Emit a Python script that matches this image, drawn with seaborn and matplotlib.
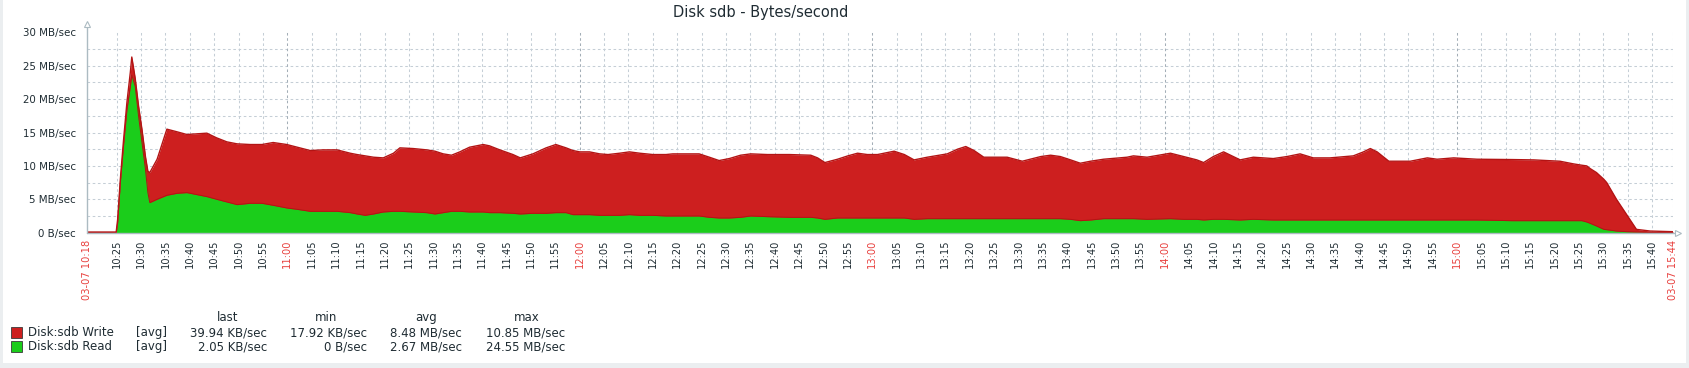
import numpy as np
import pandas as pd
import matplotlib
matplotlib.use("Agg")
import matplotlib.pyplot as plt
import seaborn as sns
from matplotlib.patches import Rectangle

# ---------------- data (minutes since 10:00, MB/sec) ----------------
minutes = [18.85, 24.9, 25.2, 25.75, 26.4, 27.1, 27.8, 28.1, 28.8, 29.5, 30.2, 30.9, 31.4, 31.8,
           33.3, 35.3, 37.4, 39.4, 41.4, 43.5, 45.5, 47.6, 49.7, 52.4, 54.8, 57.1, 59.9, 62.0,
           64.7, 67.4, 70.2, 72.9, 74.3, 76.0, 77.7, 79.7, 81.8, 83.1, 85.8, 88.6, 90.3, 92.0,
           93.7, 95.4, 97.4, 100.2, 101.5, 103.6, 106.3, 107.8, 110.4, 113.1, 115.1, 117.2,
           118.6, 120.0, 122.0, 124.1, 125.8, 128.2, 130.2, 132.3, 135.0, 137.7, 139.1, 144.5,
           146.6, 148.6, 150.7, 153.0, 155.1, 158.5, 163.0, 167.4, 168.8, 170.3, 172.9, 175.0,
           177.0, 179.0, 181.1, 184.5, 186.6, 188.6, 191.3, 195.4, 197.5, 199.2, 200.9, 202.9,
           207.7, 210.8, 214.6, 216.6, 218.6, 220.7, 222.7, 224.8, 227.5, 232.3, 233.6, 236.4,
           241.2, 243.9, 246.6, 248.0, 250.0, 252.1, 255.5, 258.2, 262.3, 265.1, 267.8, 270.5,
           273.9, 278.7, 280.8, 282.2, 283.6, 286.0, 290.4, 293.9, 295.9, 299.3, 304.1, 311.3,
           315.7, 321.1, 323.9, 325.6, 326.6, 327.3, 328.6, 330.1, 330.7, 332.7, 334.8, 336.8,
           339.6, 344.3]

read_mb = [0.0, 0.0, 1.5, 7.5, 13.0, 18.4, 21.9, 23.6, 21.9, 17.4, 13.4, 9.5, 6.0, 4.5,
           5.0, 5.6, 5.9, 6.0, 5.7, 5.4, 5.0, 4.6, 4.2, 4.4, 4.4, 4.1, 3.7, 3.5,
           3.2, 3.2, 3.2, 3.0, 2.8, 2.6, 2.8, 3.1, 3.2, 3.2, 3.1, 3.0, 2.8, 3.0,
           3.2, 3.2, 3.1, 3.1, 3.0, 3.0, 2.9, 2.8, 2.9, 2.9, 3.0, 3.0,
           2.7, 2.7, 2.7, 2.6, 2.6, 2.6, 2.7, 2.6, 2.6, 2.5, 2.5, 2.5,
           2.3, 2.2, 2.2, 2.3, 2.5, 2.4, 2.3, 2.3, 2.2, 2.0, 2.2, 2.2,
           2.2, 2.2, 2.2, 2.2, 2.2, 2.0, 2.1, 2.1, 2.1, 2.1, 2.1, 2.1,
           2.1, 2.1, 2.1, 2.1, 2.1, 2.0, 1.8, 1.9, 2.1, 2.1, 2.1, 2.0,
           2.1, 2.0, 2.0, 1.9, 2.0, 2.0, 1.9, 2.0, 1.9, 1.9, 1.9, 1.9,
           1.9, 1.9, 1.9, 1.9, 1.9, 1.9, 1.9, 1.9, 1.9, 1.9, 1.9, 1.8,
           1.8, 1.8, 1.8, 1.8, 1.6, 1.4, 1.0, 0.5, 0.45, 0.25, 0.15, 0.1,
           0.05, 0.02]

write_mb = [0.1, 0.1, 0.5, 0.5, 0.8, 1.1, 2.1, 2.7, 1.2, 1.5, 2.0, 1.9, 3.2, 4.5,
            6.0, 9.9, 9.2, 8.7, 9.1, 9.5, 9.2, 9.0, 9.1, 8.8, 8.8, 9.4, 9.5, 9.3,
            9.1, 9.2, 9.2, 8.9, 8.9, 8.9, 8.5, 8.1, 8.7, 9.5, 9.5, 9.4, 9.4, 8.8,
            8.4, 8.9, 9.7, 10.1, 10.0, 9.4, 8.8, 8.4, 8.9, 9.8, 10.2, 9.7,
            9.6, 9.4, 9.4, 9.2, 9.1, 9.3, 9.4, 9.3, 9.1, 9.2, 9.3, 9.3,
            9.0, 8.6, 8.9, 9.3, 9.3, 9.3, 9.4, 9.3, 9.0, 8.5, 8.8, 9.3,
            9.7, 9.5, 9.5, 10.0, 9.5, 8.9, 9.2, 9.7, 10.4, 10.8, 10.2, 9.2,
            9.2, 8.6, 9.3, 9.5, 9.3, 8.9, 8.6, 8.8, 8.9, 9.2, 9.4, 9.3,
            9.8, 9.4, 8.9, 8.6, 9.4, 10.1, 9.0, 9.3, 9.2, 9.5, 9.9, 9.3,
            9.3, 9.6, 10.2, 10.7, 10.2, 8.8, 8.8, 9.3, 9.1, 9.3, 9.1, 9.15,
            9.1, 8.9, 8.5, 8.3, 8.4, 8.2, 8.0, 7.5, 7.05, 4.75, 2.55, 0.4,
            0.2, 0.13]

x_start, x_end = 18.85, 344.3
tick_minutes = list(range(25, 341, 5))
tick_labels = ["%d:%02d" % (10 + m // 60, m % 60) for m in tick_minutes]
start_label, end_label = "03-07 10:18", "03-07 15:44"
y_ticks = [0, 5, 10, 15, 20, 25, 30]
y_labels = ["0 B/sec", "5 MB/sec", "10 MB/sec", "15 MB/sec", "20 MB/sec", "25 MB/sec", "30 MB/sec"]

title = "Disk sdb - Bytes/second"
legend_names = ["Disk:sdb Write", "Disk:sdb Read"]
legend_func = ["[avg]", "[avg]"]
legend_headers = ["last", "min", "avg", "max"]
legend_last = ["39.94 KB/sec", "2.05 KB/sec"]
legend_min = ["17.92 KB/sec", "0 B/sec"]
legend_avg = ["8.48 MB/sec", "2.67 MB/sec"]
legend_max = ["10.85 MB/sec", "24.55 MB/sec"]

# ---------------- style ----------------
sns.set_theme(style="white")
plt.rcParams['font.family'] = ['DejaVu Sans']

RED, RED_LINE = "#CD1F1F", "#B31414"
GREEN = "#1BCD1B"
TXT = "#1F2C33"
HOUR = "#E8403E"
GRID = "#C5CED6"
GRID_H = "#A3AEB7"
AXC = "#ACBBC2"

W, H = 1689, 368
fig = plt.figure(figsize=(W / 100, H / 100), dpi=100)
fig.patch.set_facecolor("#EBEEF0")
fig.patches.append(Rectangle((3 / W, 5 / H), (W - 6) / W, (H - 5) / H, transform=fig.transFigure,
                             facecolor="white", edgecolor="none", zorder=-10))

def fx(px):
    return px / W

def fy(py):
    return 1 - py / H

left, right, top, bottom = 86.7, 1673, 32.3, 232.7
ax = fig.add_axes([fx(left), fy(bottom), fx(right) - fx(left), (bottom - top) / H])
ax.set_facecolor("none")

df = pd.DataFrame({"minute": minutes, "Read": read_mb, "Write": write_mb})
df["Total"] = df["Read"] + df["Write"]

# grid
for v in np.arange(2.5, 30, 2.5):
    ax.axhline(v, color=GRID, lw=0.75, ls=(0, (2.5, 2.5)), zorder=0)
for m in tick_minutes + [x_end]:
    c = GRID_H if (m % 60 == 0) else GRID
    ax.axvline(m, color=c, lw=0.75, ls=(0, (2.5, 2.5)), zorder=0)

ax.fill_between(df["minute"], 0, df["Total"], color=RED, lw=0, zorder=2)
ax.fill_between(df["minute"], 0, df["Read"], color=GREEN, lw=0, zorder=3)
sns.lineplot(data=df, x="minute", y="Total", color=RED_LINE, lw=1.0, ax=ax, zorder=4, legend=False)
sns.lineplot(data=df, x="minute", y="Read", color=RED_LINE, lw=0.7, ax=ax, zorder=4, legend=False)

ax.set_xlim(x_start, x_end)
ax.set_ylim(0, 30)
for s in ax.spines.values():
    s.set_visible(False)

# axes lines with arrows
ax.plot([x_start, x_start], [0, 30.8], color=AXC, lw=1.0, clip_on=False, zorder=5)
ax.plot([x_start, x_end + 1.0], [0, 0], color=AXC, lw=1.0, clip_on=False, zorder=5)
ax.plot([x_start], [31.2], marker="^", ms=5, mfc="white", mec=AXC, mew=0.8, clip_on=False, zorder=6)
ax.plot([x_end + 1.1], [0], marker=">", ms=5, mfc="white", mec=AXC, mew=0.8, clip_on=False, zorder=6)

ax.set_yticks(y_ticks)
ax.set_yticklabels(y_labels)
ax.tick_params(axis="y", length=0, pad=7.7, labelsize=7.4, labelcolor=TXT)

xt = [x_start] + tick_minutes + [x_end]
xl = [start_label] + tick_labels + [end_label]
ax.set_xticks(xt)
ax.set_xticklabels(xl, rotation=90)
ax.tick_params(axis="x", length=0, pad=5, labelsize=7.1, labelcolor=TXT)
for lab, m in zip(ax.get_xticklabels(), xt):
    if m in (x_start, x_end) or (isinstance(m, int) and m % 60 == 0):
        lab.set_color(HOUR)
ax.set_xlabel("")
ax.set_ylabel("")

# title
fig.text(fx(761), fy(13), title, ha="center", va="center", fontsize=10.5, color=TXT)

# legend (baseline aligned)
fs = 8.5
bl = 4.3
header_x = [228, 326, 426, 527]
for hx, htxt in zip(header_x, legend_headers):
    fig.text(fx(hx), fy(317 + bl), htxt, ha="center", va="baseline", fontsize=fs, color=TXT)
row_y = [332, 346]
colors = [RED, GREEN]
for i in range(2):
    yy = row_y[i]
    yb = fy(yy + bl)
    fig.patches.append(Rectangle((fx(11), fy(yy + 5.5)), 11 / W, 11 / H, transform=fig.transFigure,
                                 facecolor=colors[i], edgecolor="#3A3A3A", lw=0.6))
    fig.text(fx(28), yb, legend_names[i], ha="left", va="baseline", fontsize=fs, color=TXT)
    fig.text(fx(136), yb, legend_func[i], ha="left", va="baseline", fontsize=fs, color=TXT)
    fig.text(fx(267), yb, legend_last[i], ha="right", va="baseline", fontsize=fs, color=TXT)
    fig.text(fx(367), yb, legend_min[i], ha="right", va="baseline", fontsize=fs, color=TXT)
    fig.text(fx(462), yb, legend_avg[i], ha="right", va="baseline", fontsize=fs, color=TXT)
    fig.text(fx(565), yb, legend_max[i], ha="right", va="baseline", fontsize=fs, color=TXT)

fig.savefig("out.png", dpi=100, facecolor=fig.get_facecolor())
